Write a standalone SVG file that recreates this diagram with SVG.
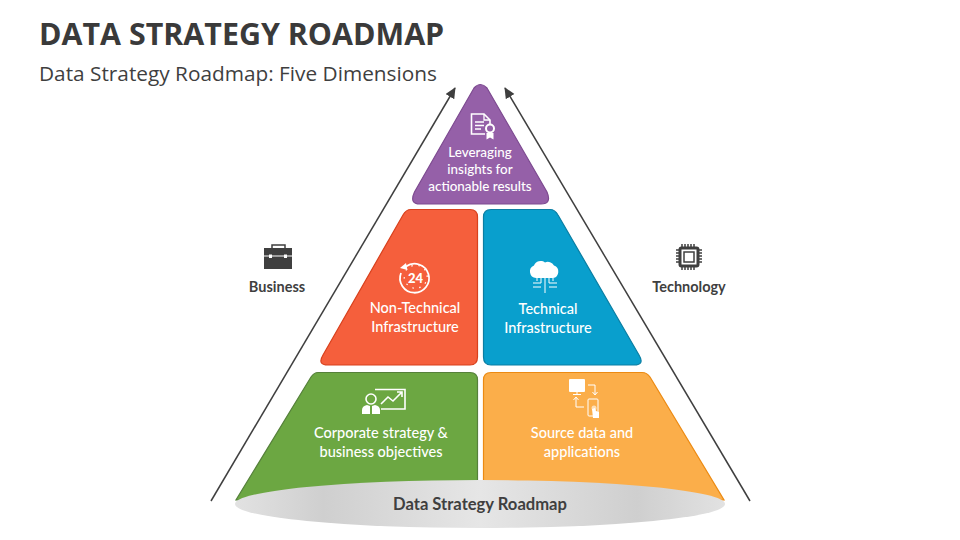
<svg xmlns="http://www.w3.org/2000/svg" width="960" height="540" viewBox="0 0 960 540">
<style>
.lb{font-family:Lato,"Liberation Sans",sans-serif;font-weight:500;font-size:14.5px;fill:#fff;text-anchor:middle}
.sm{font-size:13.4px}
.sd{font-family:Lato,"Liberation Sans",sans-serif;font-weight:700;font-size:14.5px;fill:#3f3f3f;text-anchor:middle}
.ic{fill:none;stroke:#fff;stroke-width:1.6}
.if{fill:#fff}
.cn{stroke:#3f3f3f;stroke-width:1.5;fill:none;marker-end:url(#ah)}
</style>
<defs>
<marker id="ah" markerUnits="userSpaceOnUse" markerWidth="12" markerHeight="12" refX="10" refY="5" orient="auto"><path d="M0 0L11 5L0 10Z" fill="#3f3f3f"/></marker>
<linearGradient id="eh" x1="0" x2="1" y1="0" y2="0"><stop offset="0" stop-color="#e2e2e2"/><stop offset=".18" stop-color="#cfcfcf"/><stop offset=".5" stop-color="#e6e6e6"/><stop offset=".82" stop-color="#cfcfcf"/><stop offset="1" stop-color="#e2e2e2"/></linearGradient>
</defs>
<rect width="960" height="540" fill="#fff"/>
<text x="39" y="45" font-family="'Open Sans','Liberation Sans',sans-serif" font-weight="700" font-size="30.4" fill="#3a3a3a">DATA STRATEGY ROADMAP</text>
<text x="39" y="81" font-family="'Open Sans','Liberation Sans',sans-serif" font-size="20.8" fill="#3f3f3f">Data Strategy Roadmap: Five Dimensions</text>
<g id="connectors">
<path class="cn" d="M211 501L455 88"/>
<path class="cn" d="M750 501L505 88"/>
</g>
<g id="node-leveraging">
<path d="M474 88Q480.500 81 487 88L547 192Q552 204 541 204L420 204Q409 204 414.500 192Z" fill="#9560a8" stroke="#7d4a90" stroke-width="1.200"/>
<g>
<path class="ic" stroke-linejoin="miter" d="M485 134H471.500V114H484L490 120V124"/>
<path class="ic" style="stroke-width:1.300" d="M484 114V120H490M475 122H484M475 125.500H484M475 129H481"/>
<circle cx="490" cy="128.500" r="4" fill="none" stroke="#fff" stroke-width="2"/>
<path class="if" d="M486.500 133L486.500 139.500L490 137.500L493.500 139.500L493.500 133Z"/>
</g>
<text class="lb sm" x="480" y="157">Leveraging</text>
<text class="lb sm" x="480" y="174">insights for</text>
<text class="lb sm" x="480" y="191">actionable results</text>
</g>
<g id="node-non-technical">
<path d="M411 209.500H470Q477.500 209.500 477.500 217V357Q477.500 365 470 365H328Q317 365 323 355L403 215Q406 209.500 411 209.500Z" fill="#f55f3c" stroke="#d8401c" stroke-width="1.200"/>
<g>
<path d="M406 266.500A14.500 14.500 0 1 1 401 273" fill="none" stroke="#fff" stroke-width="1.800"/>
<path class="if" d="M400 268L406 263L407.500 270Z"/>
<path class="ic" style="stroke-width:1.200" stroke-dasharray="1.500 5.500" d="M406 270.500A11.500 11.500 0 1 1 404.500 274"/>
<text x="415.500" y="283" font-family="Lato,sans-serif" font-weight="900" font-size="13" fill="#fff" text-anchor="middle">24</text>
</g>
<text class="lb" x="415" y="313">Non-Technical</text>
<text class="lb" x="415" y="332">Infrastructure</text>
</g>
<g id="node-technical">
<path d="M491 209.500H550Q555 209.500 558 215L639 355Q645 365 634 365H491Q483.500 365 483.500 357V217Q483.500 209.500 491 209.500Z" fill="#099fcd" stroke="#0a7ea3" stroke-width="1.200"/>
<g>
<path class="if" d="M536 278A6.500 6.500 0 0 1 534 265.500A7 7 0 0 1 545 262.500A7 7 0 0 1 554 265.500A6.500 6.500 0 0 1 553 278Z"/>
<path class="ic" style="stroke-width:1" d="M545 278V293M541 278V283H533M549 278V283H557M537 278V281M553 278V281M533 287H541M549 287H557"/>
</g>
<text class="lb" x="548" y="314">Technical</text>
<text class="lb" x="548" y="333">Infrastructure</text>
</g>
<g id="node-corporate">
<path d="M318 372.500H470Q477.500 372.500 477.500 380V500H236L311 377Q314 372.500 318 372.500Z" fill="#6ca742" stroke="#55803a" stroke-width="1.200"/>
<g>
<path class="ic" d="M375 389.500H405V409H381"/>
<path class="ic" d="M381 404L388 397L393 401L402 392M397 392H402V397"/>
<circle cx="371" cy="399" r="5" fill="none" stroke="#fff" stroke-width="1.600"/>
<path class="if" d="M362 414V410Q362 406 367 405L370 406V414ZM372 414V406L375 405Q380 406 380 410V414Z"/>
</g>
<text class="lb" x="381" y="438">Corporate strategy &amp;</text>
<text class="lb" x="381" y="457">business objectives</text>
</g>
<g id="node-source">
<path d="M491 372.500H642Q647 372.500 650 377L724 500H483.500V380Q483.500 372.500 491 372.500Z" fill="#fbae4a" stroke="#ec8a12" stroke-width="1.200"/>
<g>
<rect x="569" y="379" width="16" height="13" rx="1" fill="#fff"/>
<path class="ic" style="stroke-width:1" d="M577 392V394M573 394.500H581M588 385H595V394M592.500 392L595 395L597.500 392M584 407H576V398M573.500 400L576 397L578.500 400"/>
<rect x="588" y="399" width="10" height="17" rx="1" fill="none" stroke="#fff" stroke-width="1"/>
<circle cx="594" cy="408" r="2.500" fill="#fff" fill-opacity=".6"/>
<path class="if" d="M592 409L595 408L596 411L599 412V418H593Z"/>
</g>
<text class="lb" x="582" y="438">Source data and</text>
<text class="lb" x="582" y="457">applications</text>
</g>
<g id="node-base">
<ellipse cx="480" cy="504" rx="245" ry="24" fill="url(#eh)"/>
<text class="sd" x="480" y="510" style="font-size:16.6px">Data Strategy Roadmap</text>
</g>
<g id="node-business">
<path d="M272 248V245H285V248" fill="none" stroke="#3f3f3f" stroke-width="1.500"/>
<rect x="264" y="248" width="28" height="21" fill="#3f3f3f"/>
<path d="M264 256H292" stroke="#fff" stroke-width="1"/>
<rect x="269" y="254.500" width="3" height="3.500" fill="#fff"/>
<rect x="284" y="254.500" width="3" height="3.500" fill="#fff"/>
<text class="sd" x="277" y="292">Business</text>
</g>
<g id="node-technology">
<rect x="680" y="248" width="18" height="18" rx="1.500" fill="none" stroke="#3f3f3f" stroke-width="3"/>
<rect x="684" y="252" width="10" height="10" fill="none" stroke="#3f3f3f" stroke-width="1.500"/>
<path d="M682 244V247M685 244V247M688 244V247M691 244V247M694 244V247M682 267V270M685 267V270M688 267V270M691 267V270M694 267V270M676 250H679M676 253H679M676 256H679M676 259H679M676 262H679M699 250H702M699 253H702M699 256H702M699 259H702M699 262H702" stroke="#3f3f3f" stroke-width="1.500" fill="none"/>
<text class="sd" x="689" y="292">Technology</text>
</g>
</svg>
